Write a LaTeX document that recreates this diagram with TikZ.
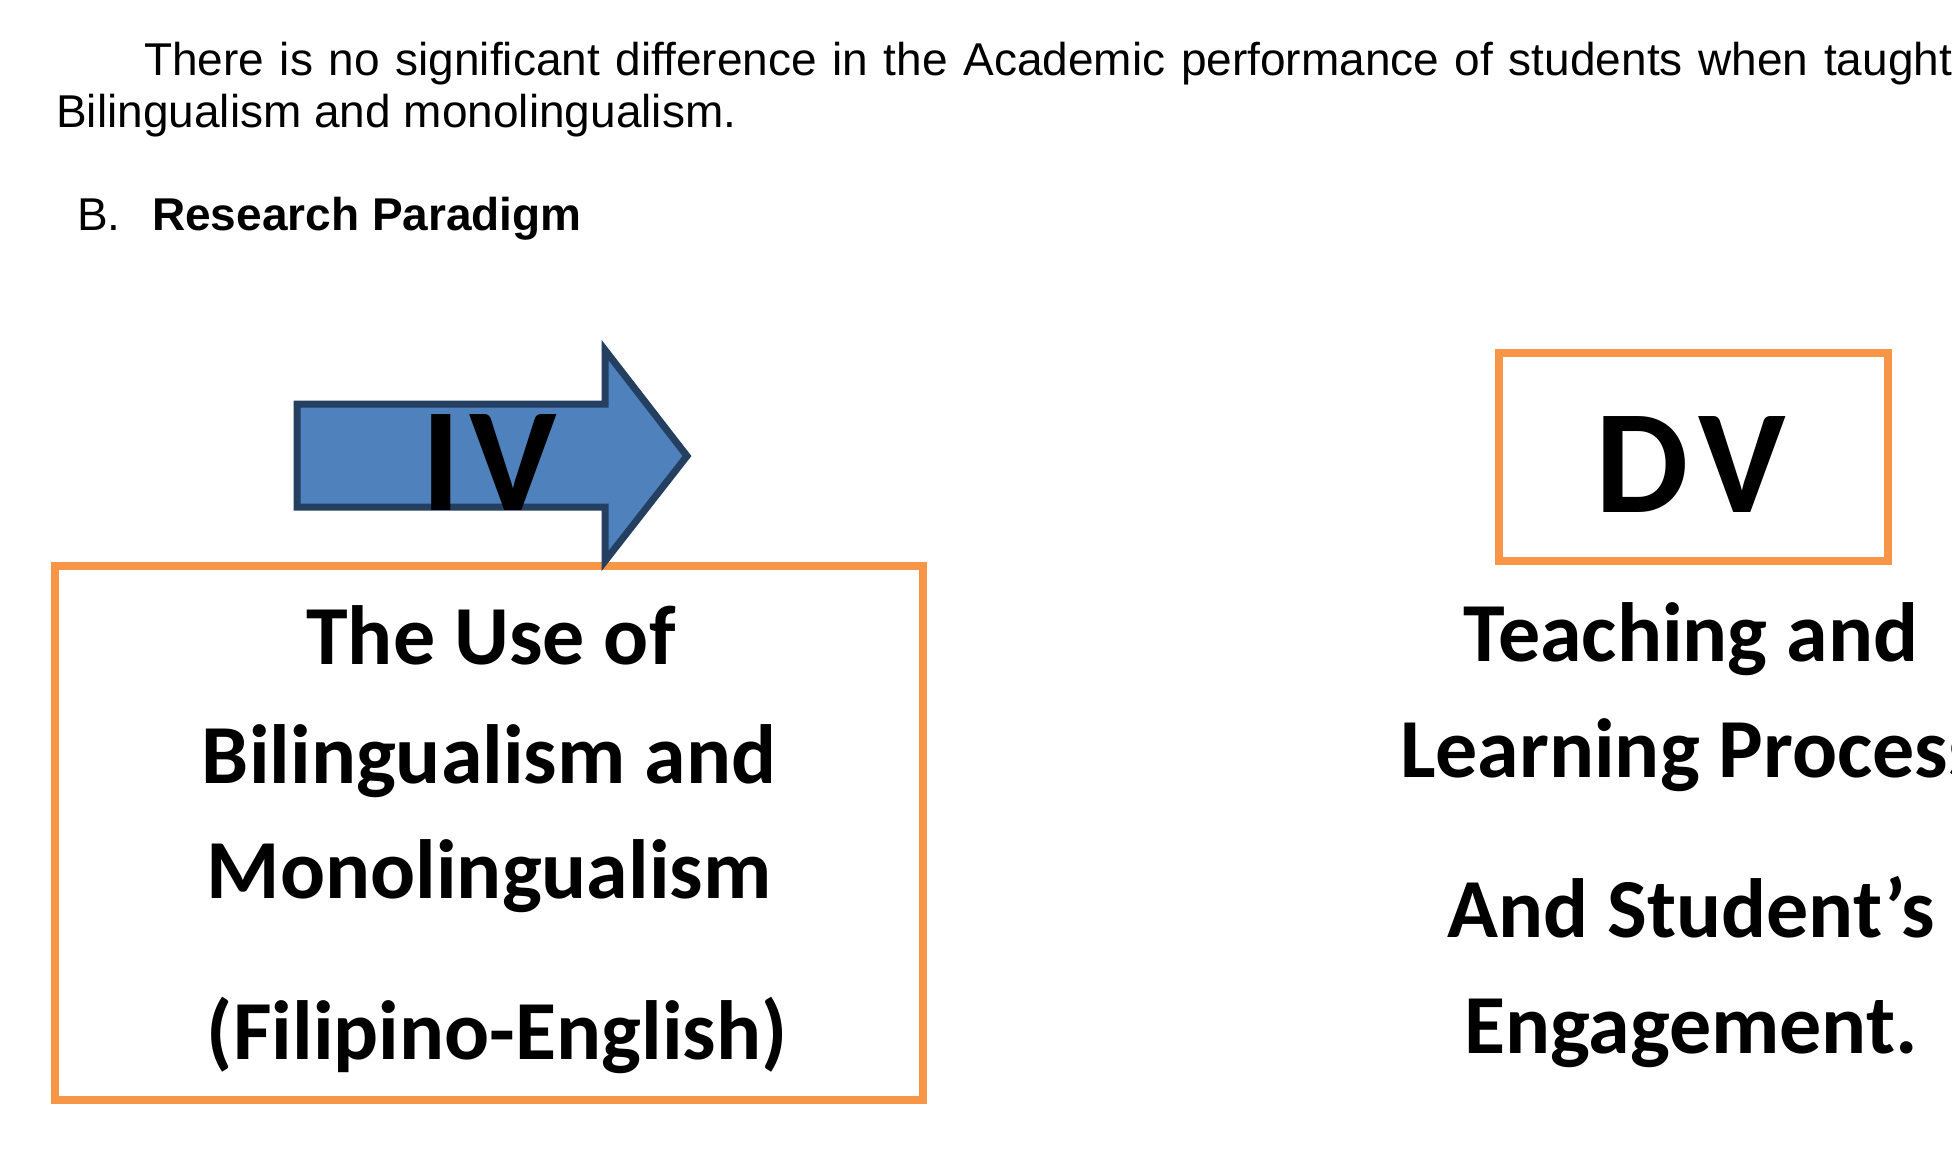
\documentclass[tikz,border=0pt]{standalone}
\usepackage{fontspec}
\setmainfont{Liberation Sans}
\newfontfamily\calib{Carlito}
\definecolor{orangeline}{HTML}{F79646}
\definecolor{arrowfill}{HTML}{4F81BD}
\definecolor{arrowline}{HTML}{243F60}
\begin{document}
\begin{tikzpicture}[x=1pt,y=-1pt,
  bodytext/.style={inner sep=0pt, anchor=base west, font=\fontsize{46}{52}\selectfont},
  orangebox/.style={draw=orangeline, line width=8pt, inner sep=0pt},
  bigtext/.style={inner sep=0pt, anchor=base, font=\calib\bfseries\fontsize{84}{100}\selectfont},
  vartext/.style={inner sep=0pt, anchor=base, font=\calib\bfseries\fontsize{148}{160}\selectfont},
  ivarrow/.style={fill=arrowfill, draw=arrowline, line width=7pt, line join=miter},
]
\useasboundingbox (0,0) rectangle (1952,1171);
\fill[white] (0,0) rectangle (1952,1171);

% top text
\node[bodytext] (line1) at (144,75) {\hbox to 1808pt{There is no significant difference in the Academic performance of students when taught}};
\node[bodytext] (line2) at (56,127) {Bilingualism and monolingualism.};
\node[bodytext] (secB) at (77,230) {B.};
\node[bodytext] (sectitle) at (152,230) {\textbf{Research Paradigm}};

% IV box
\node[orangebox, minimum width=868pt, minimum height=534pt] (ivbox) at (489,833) {};
\node[bigtext] (iv1) at (491,664) {The Use of};
\node[bigtext] (iv2) at (489,783) {Bilingualism and};
\node[bigtext] (iv3) at (489,898) {Monolingualism};
\node[bigtext] (iv4) at (497,1059) {(Filipino-English)};

% arrow
\coordinate (a1) at (297,404);
\coordinate (a2) at (605,404);
\coordinate (a3) at (605,350);
\coordinate (a4) at (687,456);
\coordinate (a5) at (605,561);
\coordinate (a6) at (605,507);
\coordinate (a7) at (297,507);
\draw[ivarrow] (a1) -- (a2) -- (a3) -- (a4) -- (a5) -- (a6) -- (a7) -- cycle;
\node[vartext] (ivlabel) at (489,510) {I\kern8pt V};

% DV box
\node[orangebox, minimum width=389pt, minimum height=208pt] (dvbox) at (1693.5,457) {};
\node[vartext] (dvlabel) at (1691,512) {D\kern10pt V};

% DV text
\node[bigtext] (dv1) at (1691,661) {Teaching and};
\node[bigtext] (dv2) at (1691,777) {Learning Process};
\node[bigtext] (dv3) at (1691,937) {And Student’s};
\node[bigtext] (dv4) at (1691,1053) {Engagement.};
\end{tikzpicture}
\end{document}
